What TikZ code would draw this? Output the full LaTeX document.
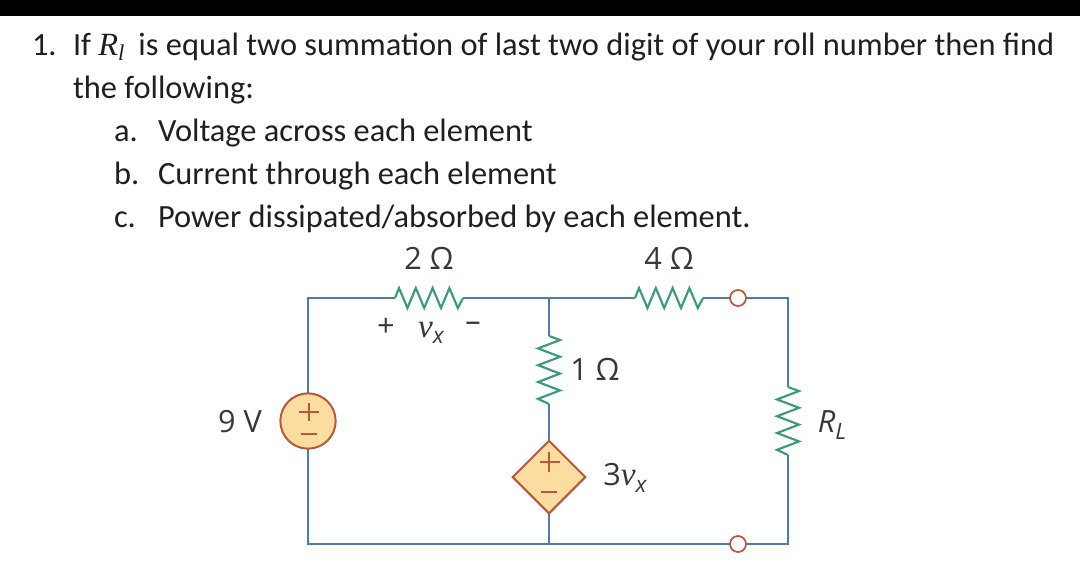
\documentclass[tikz,border=0pt]{standalone}
\usepackage{fontspec}
\setmainfont{Carlito}
\newfontfamily\labfont{Open Sans}
\newfontfamily\serfont{Liberation Serif}
\usetikzlibrary{shapes.geometric}
\definecolor{wire}{HTML}{4F7DA6}
\definecolor{resc}{HTML}{3B9A78}
\definecolor{srcfill}{HTML}{FBDD9F}
\definecolor{srcedge}{HTML}{B5583F}
\definecolor{labc}{HTML}{383838}
\newcommand\varv{{\serfont\itshape\fontsize{25pt}{26pt}\selectfont v}}
\newcommand\subx{\raisebox{-5pt}{\labfont\itshape\fontsize{17pt}{17pt}\selectfont x}}
\newcommand\zigH[2]{\draw[res] (#1) -- ++(4,-10) -- ++(8.4,20) -- ++(8.4,-20) -- ++(8.4,20) -- ++(8.4,-20) -- ++(8.4,20) -- ++(8.4,-20) -- ++(8.4,20) -- (#2);}
\newcommand\zigV[2]{\draw[res] (#1) -- ++(11,4) -- ++(-22,8.4) -- ++(22,8.4) -- ++(-22,8.4) -- ++(22,8.4) -- ++(-22,8.4) -- ++(22,8.4) -- ++(-22,8.4) -- (#2);}
\tikzset{
 txt/.style={anchor=base west,inner sep=0pt,outer sep=0pt,font=\fontsize{24.3pt}{28pt}\selectfont,text=black!88},
 lab/.style={inner sep=0pt,outer sep=0pt,font=\labfont\fontsize{23pt}{24pt}\selectfont,text=labc},
 wireline/.style={draw=wire,line width=1.8pt,line join=miter},
 res/.style={draw=resc,line width=1.6pt,line join=miter},
 term/.style={circle,draw=srcedge,fill=white,line width=1.3pt,minimum size=12pt,inner sep=0pt,outer sep=0pt},
 vsrc/.style={circle,draw=srcedge,fill=srcfill,line width=1.5pt,minimum size=41.5pt,inner sep=0pt,outer sep=0pt},
 dsrc/.style={diamond,aspect=1,draw=srcedge,fill=srcfill,line width=1.5pt,minimum size=54.5pt,inner sep=0pt,outer sep=0pt},
 sgn/.style={draw=srcedge,line width=1pt}
}
\begin{document}
\begin{tikzpicture}[x=0.75pt,y=-0.75pt]
\useasboundingbox (0,0) rectangle (1080,569);
\fill[black] (0,0) rectangle (1080,15.5);
% text
\node[txt] (n1) at (32,55) {1.};
\node[txt] (l1) at (73,55) {If {\serfont\itshape R}\raisebox{-4pt}{\serfont\itshape\fontsize{17pt}{17pt}\selectfont l}\kern5pt{} is equal two summation of last two digit of your roll number then find};
\node[txt] (l2) at (73,98) {the following:};
\node[txt] (a) at (114,141) {a.};
\node[txt] (at) at (158,141) {Voltage across each element};
\node[txt] (b) at (114,184) {b.};
\node[txt] (bt) at (158,184) {Current through each element};
\node[txt] (c) at (114,227) {c.};
\node[txt] (ct) at (158,227) {Power dissipated/absorbed by each element.};
% corners & junctions
\coordinate (tl) at (308,298);
\coordinate (tm) at (549,298);
\coordinate (tr) at (788,298);
\coordinate (bl) at (308,544);
\coordinate (bm) at (549,544);
\coordinate (br) at (788,544);
\coordinate (r2a) at (395,298); \coordinate (r2b) at (463,298);
\coordinate (r4a) at (635,298); \coordinate (r4b) at (703,298);
\coordinate (r1a) at (549,336); \coordinate (r1b) at (549,404);
\coordinate (rla) at (788,387); \coordinate (rlb) at (788,455);
% wires
\draw[wireline] (r2a) -- (tl) -- (bl) -- (br) -- (rlb);
\draw[wireline] (rla) -- (tr) -- (r4b);
\draw[wireline] (r2b) -- (r4a);
\draw[wireline] (tm) -- (r1a);
\draw[wireline] (r1b) -- (bm);
% resistors
\zigH{r2a}{r2b}
\zigH{r4a}{r4b}
\zigV{r1a}{r1b}
\zigV{rla}{rlb}
% sources
\node[vsrc] (vs) at (308,421) {};
\node[dsrc] (ds) at (549,477) {};
\draw[sgn] (299,412) -- (319,412) (309,403) -- (309,421);
\draw[sgn] (301,434) -- (317,434);
\draw[sgn] (540,462) -- (560,462) (549,452) -- (549,472);
\draw[sgn] (541,492) -- (557,492);
% terminals
\node[term] (t1) at (738,298) {};
\node[term] (t2) at (738,544) {};
% labels
\node[lab] (l2o) at (429,258) {2 Ω};
\node[lab] (l4o) at (669,258) {4 Ω};
\node[lab] (l1o) at (595,369) {1 Ω};
\node[lab] (l9v) at (240,422) {9 V};
\node[lab] (lrl) at (832,425) {{\itshape R}\raisebox{-5pt}{\itshape\fontsize{17pt}{17pt}\selectfont L}};
\node[lab] (lp) at (386,327) {+};
\node[lab] (lm) at (473,327) {\textendash};
\node[lab] (lvx) at (431,333) {\varv\subx};
\node[lab] (l3vx) at (625,478) {3\varv\subx};
\end{tikzpicture}
\end{document}
